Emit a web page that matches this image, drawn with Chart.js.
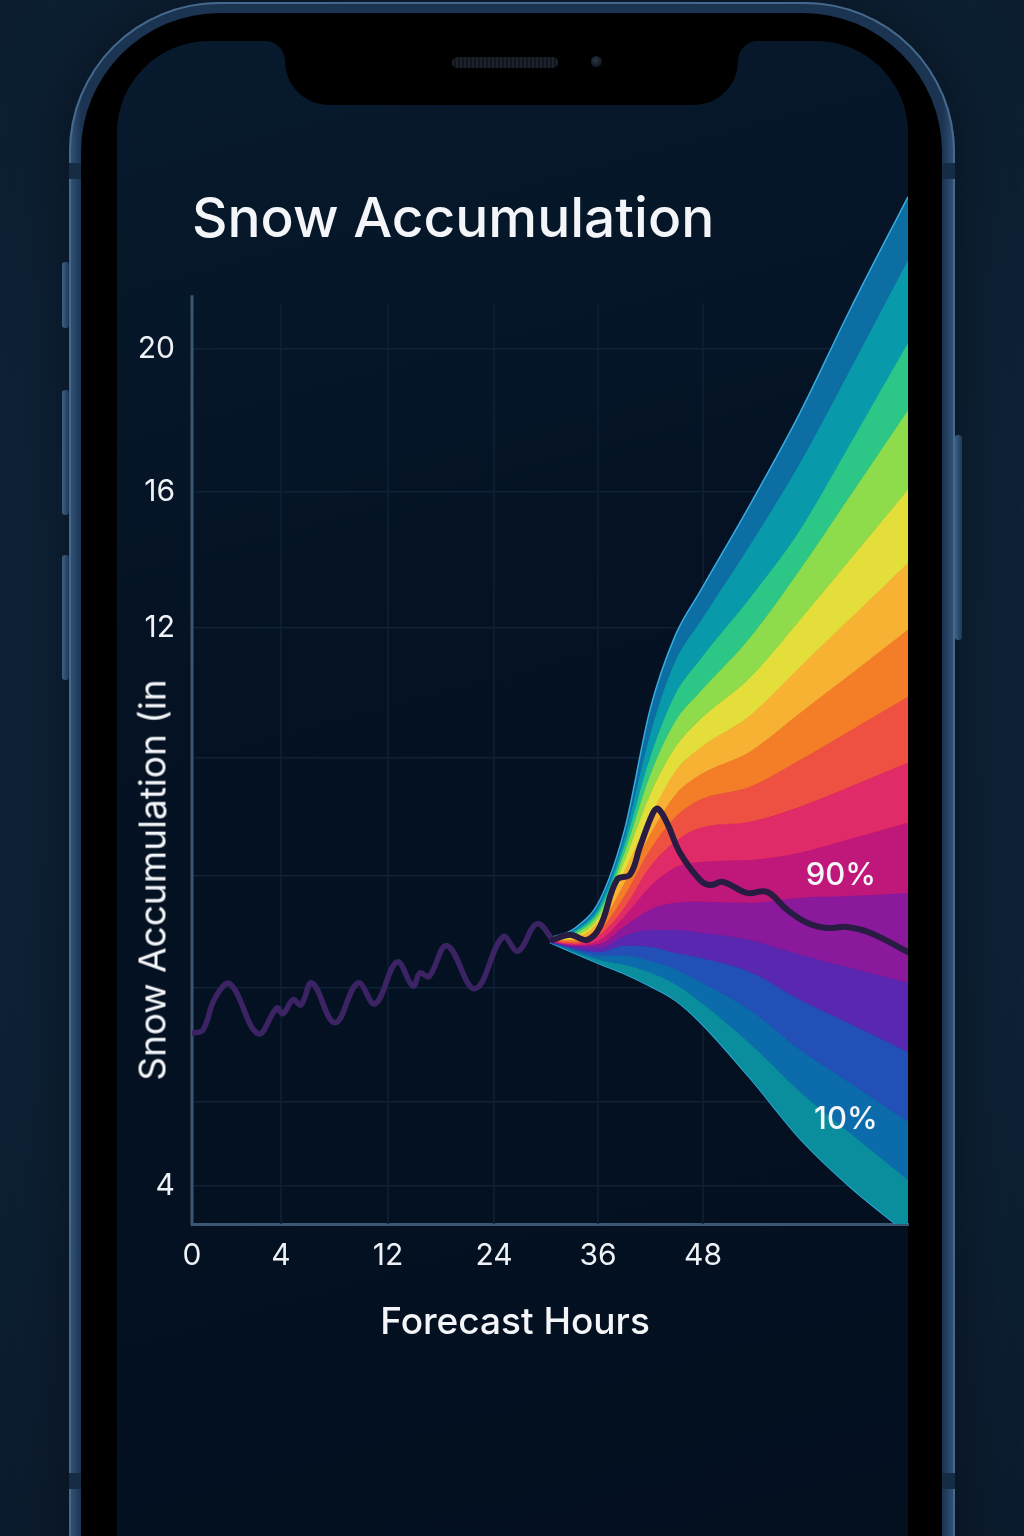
<!DOCTYPE html>
<html lang="en">
<head>
<meta charset="utf-8">
<title>Snow Accumulation</title>
<script src="https://cdn.jsdelivr.net/npm/chart.js@4.4.1/dist/chart.umd.min.js"></script>
<style>
  html, body { margin: 0; padding: 0; }
  body {
    width: 1024px; height: 1536px; overflow: hidden; position: relative;
    background: radial-gradient(ellipse at 50% 45%, #11263d 0%, #0e2136 70%, #0b1b2d 100%);
    font-family: Inter, "Noto Sans", sans-serif;
  }
  .abs { position: absolute; }
  #phone {
    left: 69px; top: 2px; width: 886px; height: 1700px; border-radius: 150px;
    background: linear-gradient(90deg, #33557a 0%, #1b3452 1.4%, #1b3452 98.6%, #33557a 100%);
    box-shadow: inset 0 0 0 2px #44698c, 0 0 60px rgba(0, 0, 0, 0.45);
  }
  #bezel { left: 81px; top: 13px; width: 861px; height: 1700px; border-radius: 139px; background: #000; }
  #screen {
    left: 117px; top: 41px; width: 791px; height: 1700px; border-radius: 92px;
    background: linear-gradient(165deg, #081a2e 0%, #041223 35%, #030f1f 100%);
  }
  #notch { left: 285px; top: 41px; width: 453px; height: 64px; background: #000; border-radius: 0 0 44px 44px; }
  .ear { top: 41px; width: 20px; height: 20px; }
  #earL { left: 265px; background: radial-gradient(circle at 0 100%, transparent 19.5px, #000 20.5px); }
  #earR { left: 738px; background: radial-gradient(circle at 100% 100%, transparent 19.5px, #000 20.5px); }
  #speaker {
    left: 452px; top: 57px; width: 106px; height: 11px; border-radius: 6px;
    background: repeating-linear-gradient(90deg, #1d232c 0 2px, #12161c 2px 4px);
  }
  #camera {
    left: 591px; top: 56px; width: 11px; height: 11px; border-radius: 50%;
    background: radial-gradient(circle at 40% 40%, #2a3646, #10161f 70%);
  }
  .btn { width: 7px; border-radius: 3px; background: linear-gradient(90deg, #3c6184, #1d3856); }
  .band { width: 13px; height: 16px; background: #162c44; }
  #chart { left: 0; top: 0; }
  .txt { color: #f3f5f8; white-space: nowrap; line-height: 1; }
  #title { left: 192px; top: 190px; font-size: 55px; font-weight: 500; }
  #ytitle { left: 152px; top: 880px; font-size: 37px; transform: translate(-50%, -50%) rotate(-90deg); }
  #xtitle { left: 515px; top: 1302px; font-size: 37px; font-weight: 500; transform: translateX(-50%); }
</style>
</head>
<body>
<div id="phone" class="abs"></div>
<div class="abs btn" style="left:62px; top:262px; height:66px;"></div>
<div class="abs btn" style="left:62px; top:390px; height:125px;"></div>
<div class="abs btn" style="left:62px; top:555px; height:125px;"></div>
<div class="abs btn" style="left:955px; top:435px; height:205px;"></div>
<div class="abs band" style="left:69px; top:163px;"></div>
<div class="abs band" style="left:942px; top:163px;"></div>
<div class="abs band" style="left:69px; top:1473px;"></div>
<div class="abs band" style="left:942px; top:1473px;"></div>
<div id="bezel" class="abs"></div>
<div id="screen" class="abs"></div>
<div id="notch" class="abs"></div>
<div id="earL" class="abs ear"></div>
<div id="earR" class="abs ear"></div>
<div id="speaker" class="abs"></div>
<div id="camera" class="abs"></div>
<canvas id="chart" class="abs" width="1024" height="1536"></canvas>
<div id="title" class="abs txt">Snow Accumulation</div>
<div id="ytitle" class="abs txt">Snow Accumulation (in</div>
<div id="xtitle" class="abs txt">Forecast Hours</div>
<script>
"use strict";
const canvas = document.getElementById('chart');
const ctx = canvas.getContext('2d');

// axis ticks (the picture spaces its labels unevenly)
const xTickValues = [0, 8.36, 18.41, 28.37, 38.14, 48];
const xTickLabels = ['0', '4', '12', '24', '36', '48'];
const yTickValues = [4, 5.61, 7.79, 9.93, 12.18, 14.67, 17.27, 20];
const yTickLabels = ['4', '', '', '', '', '12', '16', '20'];

// observed accumulation
const observedHours = [0.09, 1.03, 2.16, 3.57, 6.2, 7.98, 8.55, 9.49, 10.24, 11.27, 13.43, 15.59, 17.19, 19.26, 20.76, 21.42, 22.26, 23.95, 26.58, 29.21, 30.62, 32.41, 33.91];
const observedSnow = [6.92, 6.98, 7.59, 7.86, 6.91, 7.40, 7.29, 7.56, 7.46, 7.88, 7.12, 7.88, 7.48, 8.28, 7.82, 8.07, 8.00, 8.59, 7.77, 8.76, 8.49, 9.01, 8.70];

// median forecast
const medianHours = [33.91, 35.51, 37.10, 38.32, 39.92, 41.14, 42.08, 43.30, 43.77, 44.62, 45.84, 47.72, 48.66, 49.88, 52.13, 54.01, 55.89, 57.77, 59.65, 61.53, 63.69, 67.26];
const medianSnow = [8.70, 8.80, 8.70, 8.95, 9.85, 9.95, 10.48, 11.13, 11.21, 10.94, 10.37, 9.85, 9.75, 9.81, 9.60, 9.62, 9.28, 9.03, 8.93, 8.95, 8.84, 8.47];

// probability fan, edges from top to bottom
const fanHours = [33.63, 35.98, 38.32, 40.67, 43.02, 45.37, 47.72, 52.41, 57.11, 61.81, 67.26];
const edge01 = [8.74, 8.93, 9.47, 10.84, 13.10, 14.51, 15.36, 17.02, 18.78, 20.75, 22.91];
const edge02 = [8.74, 8.89, 9.39, 10.69, 12.62, 14.02, 14.78, 16.25, 17.82, 19.60, 21.70];
const edge03 = [8.72, 8.86, 9.31, 10.54, 12.18, 13.39, 14.06, 15.24, 16.54, 18.18, 20.12];
const edge04 = [8.72, 8.82, 9.24, 10.39, 11.84, 12.87, 13.44, 14.48, 15.78, 17.19, 18.83];
const edge05 = [8.72, 8.78, 9.16, 10.23, 11.47, 12.37, 12.91, 13.71, 14.82, 15.97, 17.31];
const edge06 = [8.70, 8.74, 9.09, 10.04, 11.04, 11.91, 12.37, 12.99, 13.92, 14.84, 15.91];
const edge07 = [8.70, 8.70, 8.99, 9.81, 10.71, 11.47, 11.86, 12.30, 13.04, 13.77, 14.63];
const edge08 = [8.70, 8.66, 8.89, 9.56, 10.42, 11.04, 11.38, 11.63, 12.14, 12.70, 13.35];
const edge09 = [8.68, 8.63, 8.80, 9.33, 10.10, 10.58, 10.84, 10.96, 11.25, 11.63, 12.09];
const edge10 = [8.68, 8.61, 8.70, 9.16, 9.72, 10.08, 10.19, 10.23, 10.37, 10.63, 10.94];
const edge11 = [8.68, 8.59, 8.63, 8.97, 9.28, 9.41, 9.43, 9.41, 9.51, 9.54, 9.60];
const edge12 = [8.66, 8.57, 8.55, 8.78, 8.89, 8.89, 8.84, 8.70, 8.42, 8.17, 7.88];
const edge13 = [8.66, 8.53, 8.47, 8.59, 8.57, 8.45, 8.36, 8.09, 7.56, 7.10, 6.56];
const edge14 = [8.66, 8.51, 8.40, 8.40, 8.30, 8.15, 7.90, 7.36, 6.60, 5.97, 5.22];
const edge15 = [8.65, 8.47, 8.32, 8.22, 8.08, 7.86, 7.52, 6.72, 5.80, 5.01, 4.11];
const edge16 = [8.65, 8.44, 8.24, 8.05, 7.82, 7.55, 7.13, 6.06, 4.90, 3.98, 3.08];

const bandColors = ['#0c6ea2', '#0899aa', '#2cc786', '#8edb4b', '#e4de3b', '#f8b233', '#f47e28', '#ee5141',
                    '#e12a68', '#c0187a', '#8a199c', '#5a28b0', '#2350b6', '#0b6bab', '#0a8e9e'];

const bandLabelText = ['90%', '10%'];
const bandLabelHours = [60.96, 61.43];
const bandLabelSnow = [9.93, 5.26];

const fanEdges = [edge01, edge02, edge03, edge04, edge05, edge06, edge07, edge08,
                  edge09, edge10, edge11, edge12, edge13, edge14, edge15, edge16];
const yAxisTop = 21.03;
const gridTop = 20.88;
const gridColor = '#0f2236';

function toPoints(xs, ys) {
    return xs.map((x, i) => ({ x: x, y: ys[i] }));
}

const datasets = [{
    label: 'Median forecast',
    data: toPoints(medianHours, medianSnow),
    borderColor: '#281c42',
    borderWidth: 6,
    tension: 0.4,
    pointRadius: 0,
    fill: false,
    borderCapStyle: 'round',
    borderJoinStyle: 'round',
    order: 0
}, {
    label: 'Observed',
    data: toPoints(observedHours, observedSnow),
    borderColor: '#3c2464',
    borderWidth: 5.5,
    tension: 0.4,
    pointRadius: 0,
    fill: false,
    borderCapStyle: 'round',
    borderJoinStyle: 'round',
    order: 1
}];

fanEdges.forEach((edge, i) => {
    const last = i === fanEdges.length - 1;
    const outer = i === 0 || last;
    datasets.push({
        label: 'Edge ' + (i + 1),
        data: toPoints(fanHours, edge),
        borderColor: outer ? '#37ace0' : bandColors[i],
        borderWidth: outer ? 1.5 : 1.2,
        backgroundColor: last ? 'transparent' : bandColors[i],
        fill: last ? false : '+1',
        cubicInterpolationMode: 'monotone',
        pointRadius: 0,
        order: 2
    });
});

// short y axis line, vertical grid lines and the band labels
const axisFrame = {
    id: 'axisFrame',
    beforeDatasetsDraw(chart) {
        const { ctx, chartArea, scales: { x, y } } = chart;
        ctx.save();
        ctx.strokeStyle = gridColor;
        ctx.lineWidth = 1.5;
        xTickValues.slice(1).forEach(v => {
            const px = x.getPixelForValue(v);
            ctx.beginPath();
            ctx.moveTo(px, y.getPixelForValue(gridTop));
            ctx.lineTo(px, chartArea.bottom);
            ctx.stroke();
        });
        ctx.strokeStyle = '#3b5670';
        ctx.lineWidth = 3;
        ctx.beginPath();
        ctx.moveTo(chartArea.left, y.getPixelForValue(yAxisTop));
        ctx.lineTo(chartArea.left, chartArea.bottom + 1.5);
        ctx.stroke();
        ctx.restore();
    },
    afterDatasetsDraw(chart) {
        const { ctx, scales: { x, y } } = chart;
        ctx.save();
        ctx.fillStyle = '#f6f7fa';
        ctx.font = '500 31px Inter';
        ctx.textAlign = 'center';
        ctx.textBaseline = 'middle';
        bandLabelText.forEach((t, i) => {
            ctx.fillText(t, x.getPixelForValue(bandLabelHours[i]), y.getPixelForValue(bandLabelSnow[i]));
        });
        ctx.restore();
    }
};

Chart.defaults.font.family = 'Inter';
Chart.defaults.color = '#eef2f6';

const myChart = new Chart(ctx, {
    type: 'line',
    data: { datasets: datasets },
    options: {
        responsive: false,
        animation: false,
        devicePixelRatio: 1,
        layout: { padding: { left: 132, right: 116, top: 190, bottom: 262 } },
        plugins: {
            legend: { display: false },
            tooltip: { enabled: false }
        },
        scales: {
            x: {
                type: 'linear',
                min: 0,
                max: 67.26,
                afterBuildTicks: scale => { scale.ticks = xTickValues.map(v => ({ value: v })); },
                afterFit: scale => { scale.height = 50; },
                ticks: {
                    autoSkip: false,
                    maxRotation: 0,
                    padding: 14,
                    color: '#eef2f6',
                    font: { size: 30 },
                    callback: (v, i) => xTickLabels[i]
                },
                grid: { color: 'transparent', drawTicks: false },
                border: { display: true, color: '#3b5670', width: 3 }
            },
            y: {
                type: 'linear',
                min: 3.27,
                max: 23.04,
                afterBuildTicks: scale => { scale.ticks = yTickValues.map(v => ({ value: v })); },
                afterFit: scale => { scale.width = 60; },
                ticks: {
                    autoSkip: false,
                    padding: 17,
                    color: '#eef2f6',
                    font: { size: 30 },
                    callback: (v, i) => yTickLabels[i]
                },
                grid: { color: gridColor, lineWidth: 1.5, drawTicks: false },
                border: { display: false }
            }
        }
    },
    plugins: [axisFrame]
});
</script>
</body>
</html>
